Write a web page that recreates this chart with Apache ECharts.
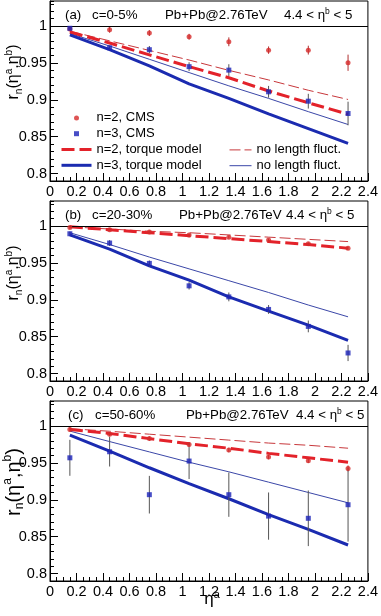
<!DOCTYPE html>
<html>
<head>
<meta charset="utf-8">
<script src="https://cdn.jsdelivr.net/npm/echarts@6/dist/echarts.min.js"></script>
<style>html,body{margin:0;padding:0;background:#fff}#c{width:381px;height:616px}</style>
</head>
<body>
<div id="c"></div>
<script>
// ---- data ----
const eta = [0.15, 0.45, 0.75, 1.05, 1.35, 1.65, 1.95, 2.25];
const yMajorTicks = [0.8, 0.85, 0.9, 0.95, 1];
const panelTags = ['(a)', '(b)', '(c)'];
const centralities = ['c=0-5%', 'c=20-30%', 'c=50-60%'];

// panel (a) c=0-5%
const a_n2_cms = [0.996, 0.995, 0.9905, 0.9855, 0.9787, 0.9674, 0.9674, 0.9503];
const a_n2_err = [0.003, 0.004, 0.004, 0.004, 0.006, 0.005, 0.006, 0.011];
const a_n3_cms = [0.997, 0.9706, 0.968, 0.945, 0.9403, 0.9109, 0.8982, 0.8815];
const a_n3_err = [0.003, 0.003, 0.005, 0.006, 0.008, 0.008, 0.010, 0.016];
const a_n2_torque = [0.992, 0.977, 0.961, 0.945, 0.930, 0.912, 0.896, 0.8806];
const a_n2_nolen = [0.993, 0.980, 0.967, 0.954, 0.940, 0.927, 0.913, 0.9005];
const a_n3_torque = [0.988, 0.968, 0.946, 0.9217, 0.902, 0.881, 0.861, 0.841];
const a_n3_nolen = [0.990, 0.973, 0.955, 0.937, 0.919, 0.902, 0.884, 0.8666];

// panel (b) c=20-30%
const b_n2_cms = [0.998, 0.995, 0.992, 0.988, 0.985, 0.981, 0.976, 0.970];
const b_n2_err = [0.002, 0.002, 0.002, 0.002, 0.002, 0.002, 0.002, 0.002];
const b_n3_cms = [0.9896, 0.977, 0.9494, 0.919, 0.904, 0.887, 0.864, 0.828];
const b_n3_err = [0.003, 0.004, 0.004, 0.005, 0.006, 0.006, 0.008, 0.011];
const b_n2_torque = [0.999, 0.995, 0.991, 0.987, 0.983, 0.979, 0.975, 0.970];
const b_n2_nolen = [0.999, 0.996, 0.993, 0.991, 0.988, 0.985, 0.982, 0.979];
const b_n3_torque = [0.988, 0.9688, 0.946, 0.9267, 0.904, 0.8847, 0.8657, 0.845];
const b_n3_nolen = [0.991, 0.975, 0.958, 0.942, 0.926, 0.910, 0.893, 0.877];

// panel (c) c=50-60%
const c_n2_cms = [0.9955, 0.989, 0.983, 0.975, 0.9675, 0.958, 0.953, 0.9426];
const c_n2_err = [0.003, 0.003, 0.003, 0.003, 0.003, 0.003, 0.003, 0.004];
const c_n3_cms = [0.957, 0.9652, 0.907, 0.9526, 0.907, 0.878, 0.875, 0.8934];
const c_n3_err = [0.0244, 0.020, 0.0255, 0.0244, 0.030, 0.032, 0.0377, 0.050];
const c_n2_torque = [0.9955, 0.990, 0.983, 0.976, 0.970, 0.963, 0.957, 0.951];
const c_n2_nolen = [0.9964, 0.993, 0.989, 0.985, 0.981, 0.977, 0.974, 0.970];
const c_n3_torque = [0.9878, 0.966, 0.9435, 0.922, 0.9015, 0.880, 0.860, 0.8388];
const c_n3_nolen = [0.9932, 0.979, 0.965, 0.951, 0.938, 0.924, 0.910, 0.896];

const panels = [
  {n2: a_n2_cms, n2e: a_n2_err, n3: a_n3_cms, n3e: a_n3_err, n2t: a_n2_torque, n2n: a_n2_nolen, n3t: a_n3_torque, n3n: a_n3_nolen},
  {n2: b_n2_cms, n2e: b_n2_err, n3: b_n3_cms, n3e: b_n3_err, n2t: b_n2_torque, n2n: b_n2_nolen, n3t: b_n3_torque, n3n: b_n3_nolen},
  {n2: c_n2_cms, n2e: c_n2_err, n3: c_n3_cms, n3e: c_n3_err, n2t: c_n2_torque, n2n: c_n2_nolen, n3t: c_n3_torque, n3n: c_n3_nolen}
];

// ---- style ----
const FONT = '"Liberation Sans", Arial, Helvetica, sans-serif';
const RED = '#e3222a', RED_THIN = '#c8383c', BLUE = '#1b2bb0', BLUE_THIN = '#3b47a8';
const RED_PT = '#d62a2a', BLUE_PT = '#1a22b8';
const TOPS = [1, 201, 401], H = 180;
const YMIN = 0.79, YMAX = 1.034;

const pair = (xs, ys) => xs.map((x, i) => [x, ys[i]]);
const triple = (xs, ys, es) => xs.map((x, i) => [x, ys[i], es[i]]);

const grid = [], xAxis = [], yAxis = [], series = [];
panels.forEach((p, i) => {
  grid.push({left: 50, right: 10, top: TOPS[i], height: H, show: true, borderColor: '#000', borderWidth: 1, backgroundColor: 'transparent'});
  xAxis.push({
    gridIndex: i, type: 'value', min: 0, max: 2.4, interval: 0.2,
    axisLine: {show: true, onZero: false, lineStyle: {color: '#000', width: 1}},
    axisTick: {show: true, inside: true, length: 8, lineStyle: {color: '#000'}},
    minorTick: {show: true, splitNumber: 4, length: 4, lineStyle: {color: '#000'}},
    axisLabel: {fontSize: 14.5, fontFamily: FONT, color: '#000', margin: 3},
    splitLine: {show: false}, minorSplitLine: {show: false}
  });
  yAxis.push({
    gridIndex: i, type: 'value', min: YMIN, max: YMAX, position: 'left',
    axisLine: {show: true, onZero: false, lineStyle: {color: '#000', width: 1}},
    axisTick: {show: true, inside: true, length: 8, customValues: yMajorTicks, lineStyle: {color: '#000'}},
    axisLabel: {customValues: yMajorTicks, fontSize: 14.5, fontFamily: FONT, color: '#000', margin: 3},
    splitLine: {show: false}
  });
  yAxis.push({
    gridIndex: i, type: 'value', min: YMIN, max: YMAX, interval: 0.01, position: 'left',
    axisLine: {show: false},
    axisTick: {show: true, inside: true, length: 4, lineStyle: {color: '#000'}},
    axisLabel: {show: false}, splitLine: {show: false}
  });
  const yi = 2 * i;
  series.push({
    name: 'n=2, torque model', type: 'line', xAxisIndex: i, yAxisIndex: yi, symbol: 'none', z: 3,
    data: pair(eta, p.n2t), lineStyle: {color: RED, width: 3, type: [13, 5]}, itemStyle: {color: RED},
    markLine: {silent: true, symbol: 'none', label: {show: false}, lineStyle: {color: '#000', width: 1, type: 'solid'}, data: [{yAxis: 1}]}
  });
  series.push({
    name: 'no length fluct. n2', type: 'line', xAxisIndex: i, yAxisIndex: yi, symbol: 'none', z: 2,
    data: pair(eta, p.n2n), lineStyle: {color: RED_THIN, width: 1, type: [11, 4]}, itemStyle: {color: RED_THIN}
  });
  series.push({
    name: 'n=3, torque model', type: 'line', xAxisIndex: i, yAxisIndex: yi, symbol: 'none', z: 3,
    data: pair(eta, p.n3t), lineStyle: {color: BLUE, width: 3}, itemStyle: {color: BLUE}
  });
  series.push({
    name: 'no length fluct. n3', type: 'line', xAxisIndex: i, yAxisIndex: yi, symbol: 'none', z: 2,
    data: pair(eta, p.n3n), lineStyle: {color: BLUE_THIN, width: 1}, itemStyle: {color: BLUE_THIN}
  });
  const errSeries = (name, d, color) => ({
    name, type: 'custom', xAxisIndex: i, yAxisIndex: yi, z: 4, silent: true,
    encode: {x: 0, y: 1},
    data: d,
    renderItem: (params, api) => {
      const x = api.value(0), y = api.value(1), e = api.value(2);
      const t = api.coord([x, y + e]), b = api.coord([x, y - e]);
      return {type: 'line', shape: {x1: t[0], y1: t[1], x2: b[0], y2: b[1]}, style: {stroke: color, lineWidth: 1}};
    }
  });
  series.push(errSeries('err n2 ' + i, triple(eta, p.n2, p.n2e), '#b03030'));
  series.push(errSeries('err n3 ' + i, triple(eta, p.n3, p.n3e), '#555'));
  series.push({
    name: 'n=2, CMS', type: 'scatter', xAxisIndex: i, yAxisIndex: yi, symbol: 'circle', symbolSize: 5, z: 5,
    data: pair(eta, p.n2), itemStyle: {color: RED_PT}
  });
  series.push({
    name: 'n=3, CMS', type: 'scatter', xAxisIndex: i, yAxisIndex: yi, symbol: 'rect', symbolSize: 5, z: 5,
    data: pair(eta, p.n3), itemStyle: {color: BLUE_PT}
  });
});

// ---- texts ----
const graphic = [];
const HFS = 13.3;
const TXT = {fontSize: HFS, fontFamily: FONT, fill: '#000'};
const supRich = {sup: {fontSize: 8.5, fontFamily: FONT, verticalAlign: 'top', lineHeight: 15}, t: {fontSize: HFS, fontFamily: FONT, lineHeight: 15}};
const tagX = [65, 65, 68], centX = [92, 92, 95], pbX = [165, 179, 186], etaX = [284, 286, 296];
const titleCY = [72, 273, 482];
panels.forEach((p, i) => {
  const cy = TOPS[i] + 14;
  graphic.push({type: 'text', x: tagX[i], y: cy, style: Object.assign({text: panelTags[i], textVerticalAlign: 'middle'}, TXT)});
  graphic.push({type: 'text', x: centX[i], y: cy, style: Object.assign({text: centralities[i], textVerticalAlign: 'middle'}, TXT)});
  graphic.push({type: 'text', x: pbX[i], y: cy, style: Object.assign({text: 'Pb+Pb@2.76TeV', textVerticalAlign: 'middle'}, TXT)});
  graphic.push({type: 'text', x: etaX[i], y: cy, style: {text: '{t|4.4 < η}{sup|b}{t| < 5}', rich: supRich, fill: '#000', textVerticalAlign: 'middle'}});
  const fs = i === 2 ? 20 : 16;
  graphic.push({
    type: 'text', x: 14, y: titleCY[i], rotation: Math.PI / 2,
    style: {
      text: '{t|r}{sub|n}{t|(η}{sup|a}{t|,η}{sup|b}{t|)}', fill: '#000', textAlign: 'center', textVerticalAlign: 'middle',
      rich: {
        t: {fontSize: fs, fontFamily: FONT, lineHeight: fs + 4},
        sub: {fontSize: Math.round(fs * 0.62), fontFamily: FONT, verticalAlign: 'bottom', lineHeight: fs + 4},
        sup: {fontSize: Math.round(fs * 0.62), fontFamily: FONT, verticalAlign: 'top', lineHeight: fs + 4}
      }
    }
  });
});
graphic.push({
  type: 'text', x: 212, y: 599,
  style: {text: '{t|η}{sup|a}', fill: '#000', textAlign: 'center', textVerticalAlign: 'middle',
    rich: {t: {fontSize: 17, fontFamily: FONT, lineHeight: 20}, sup: {fontSize: 11, fontFamily: FONT, verticalAlign: 'top', lineHeight: 20}}}
});

const CIRCLE = 'path://M1,0.5A0.5,0.5,0,1,1,0,0.5A0.5,0.5,0,1,1,1,0.5z';
const SQUARE = 'path://M0,0L1,0L1,1L0,1z';
const legendText = {fontSize: 13, fontFamily: FONT, color: '#000', lineHeight: 15.8};
const option = {
  animation: false,
  backgroundColor: '#fff',
  grid, xAxis, yAxis, series, graphic,
  legend: [
    {
      left: 60, top: 110, orient: 'vertical', itemWidth: 30, itemHeight: 5, itemGap: 0, padding: 0,
      selectedMode: false, textStyle: legendText, symbolKeepAspect: true,
      lineStyle: {width: 'inherit'},
      data: [
        {name: 'n=2, CMS', icon: CIRCLE},
        {name: 'n=3, CMS', icon: SQUARE},
        {name: 'n=2, torque model', itemStyle: {opacity: 0}},
        {name: 'n=3, torque model', itemStyle: {opacity: 0}}
      ]
    },
    {
      left: 229, top: 142, orient: 'vertical', itemWidth: 22, itemHeight: 5, itemGap: 0, padding: 0,
      selectedMode: false, textStyle: legendText,
      lineStyle: {width: 'inherit'},
      formatter: () => 'no length fluct.',
      data: [
        {name: 'no length fluct. n2', itemStyle: {opacity: 0}},
        {name: 'no length fluct. n3', itemStyle: {opacity: 0}}
      ]
    }
  ]
};
const chart = echarts.init(document.getElementById('c'), null, {renderer: 'canvas'});
chart.setOption(option);
</script>
</body>
</html>
